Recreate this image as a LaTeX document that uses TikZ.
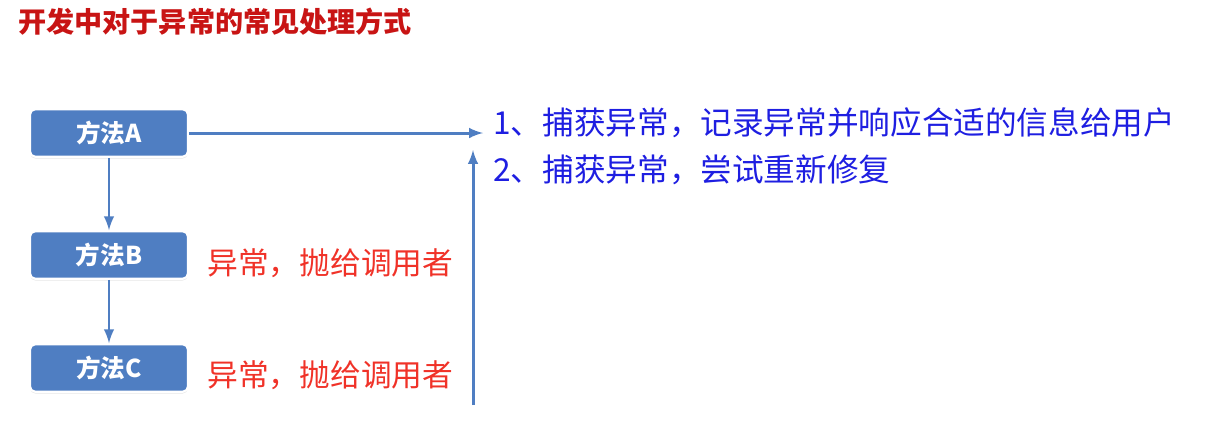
\documentclass[tikz,border=0pt]{standalone}
\usepackage{fontspec}
\setmainfont{Noto Sans CJK SC}
\usetikzlibrary{shadows}
\definecolor{boxblue}{RGB}{79,126,194}
\definecolor{titlered}{RGB}{200,20,20}
\definecolor{notered}{RGB}{240,50,40}
\definecolor{noteblue}{RGB}{30,30,225}
\begin{document}
\begin{tikzpicture}[x=0.02cm,y=-0.02cm]

      \useasboundingbox (0,0) rectangle (1229,437);

      % Title
      \node[anchor=west,text=titlered,font=\bfseries\fontsize{16}{18}\selectfont,inner sep=0] (title) at (18,22) {开发中对于异常的常见处理方式};

      % Nodes
      \begin{scope}[every node/.style={rectangle,rounded corners=3pt,fill=boxblue,draw=white,line width=1.2pt,
          drop shadow={opacity=0.2,shadow xshift=0pt,shadow yshift=-1pt},
          minimum width=3.16cm,minimum height=0.95cm,text=white,font=\bfseries\fontsize{14}{16}\selectfont}]
        \node (mA) at (109,133) {方法A};
        \node (mB) at (109,255) {方法B};
        \node (mC) at (109,368) {方法C};
      \end{scope}

      % Labels
      \begin{scope}[every node/.style={anchor=west,inner sep=0}]
        \node[text=notered,font=\fontsize{17.5}{20}\selectfont] (throwB) at (207,263) {异常，抛给调用者};
        \node[text=notered,font=\fontsize{17.5}{20}\selectfont] (throwC) at (207,375) {异常，抛给调用者};
        \node[text=noteblue,font=\fontsize{18}{20}\selectfont] (way1) at (493,123) {1、捕获异常，记录异常并响应合适的信息给用户};
        \node[text=noteblue,font=\fontsize{18}{20}\selectfont] (way2) at (493,170) {2、捕获异常，尝试重新修复};
      \end{scope}

      \coordinate (out) at (483,133);
      \coordinate (upbot) at (473,405);
      \coordinate (uptop) at (473,150);

      % Edges
      \begin{scope}[every edge/.style={draw,boxblue,line width=1.7pt,-latex}]
        \path (mA) edge (mB);
        \path (mB) edge (mC);
        \path (mA.east) edge (out);
        \path (upbot) edge (uptop);
      \end{scope}

    \end{tikzpicture}
\end{document}
